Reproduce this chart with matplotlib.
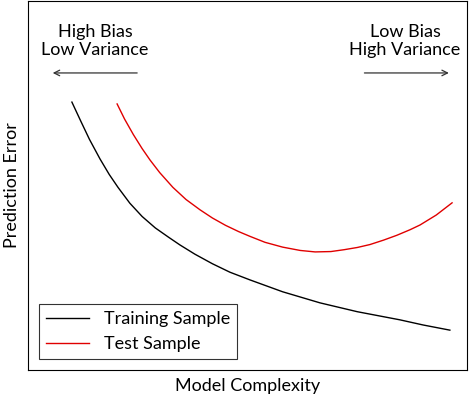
import matplotlib.pyplot as plt

plt.rcParams['font.family'] = ['Lato', 'DejaVu Sans']

# model complexity (x) vs prediction error (y)
train_x = [1.0, 1.2, 1.4, 1.64, 1.85, 2.05, 2.32, 2.6, 2.9, 3.2, 3.46, 3.8, 4.2, 4.6, 5.06, 5.8, 6.65, 7.5, 8.47, 9.0, 9.61]
train_y = [7.26, 6.75, 6.25, 5.72, 5.3, 4.95, 4.52, 4.16, 3.85, 3.6, 3.39, 3.14, 2.88, 2.65, 2.44, 2.12, 1.82, 1.58, 1.36, 1.22, 1.08]
test_x = [2.03, 2.2, 2.4, 2.6, 2.78, 3.0, 3.3, 3.6, 3.92, 4.2, 4.5, 4.8, 5.06, 5.4, 5.8, 6.2, 6.54, 6.9, 7.2, 7.5, 7.79, 8.1, 8.4, 8.7, 8.93, 9.3, 9.66]
test_y = [7.21, 6.8, 6.38, 6.0, 5.69, 5.35, 4.95, 4.62, 4.34, 4.12, 3.92, 3.75, 3.62, 3.46, 3.33, 3.24, 3.20, 3.21, 3.26, 3.32, 3.40, 3.52, 3.65, 3.8, 3.93, 4.2, 4.53]

fig = plt.figure(figsize=(4.74, 4.01), dpi=100)
ax = fig.add_axes([28 / 474, 31 / 401, 439 / 474, 369 / 401])
ax.plot(train_x, train_y, color='black', lw=1, label='Training Sample')
ax.plot(test_x, test_y, color='#e00000', lw=1, label='Test Sample')
ax.set_xlim(0, 10)
ax.set_ylim(0, 10)
ax.set_xticks([])
ax.set_yticks([])
ax.set_xlabel('Model Complexity', fontsize=13, labelpad=6)
ax.set_ylabel('Prediction Error', fontsize=13, labelpad=6)

ax.text(1.53, 8.92, 'High Bias\nLow Variance', ha='center', va='center', fontsize=13, linespacing=1.15)
ax.text(8.59, 8.92, 'Low Bias\nHigh Variance', ha='center', va='center', fontsize=13, linespacing=1.15)
ax.annotate('', xy=(0.5, 8.05), xytext=(2.55, 8.05),
            arrowprops=dict(arrowstyle='->', color='#333333', lw=0.9))
ax.annotate('', xy=(9.65, 8.05), xytext=(7.6, 8.05),
            arrowprops=dict(arrowstyle='->', color='#333333', lw=0.9))

leg = ax.legend(loc='lower left', fontsize=13, frameon=True, fancybox=False,
                edgecolor='black', borderaxespad=0.6, handlelength=2.4)
leg.get_frame().set_linewidth(0.8)

fig.savefig('out.png', dpi=100)
